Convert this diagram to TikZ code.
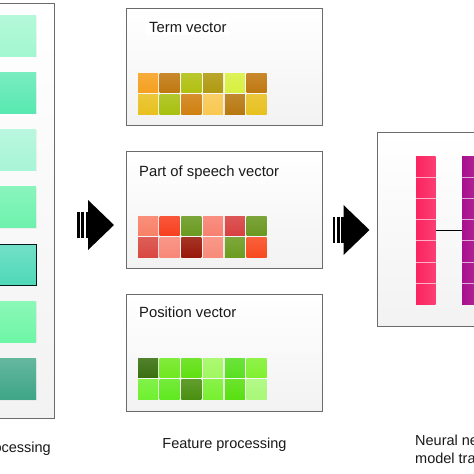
\documentclass[tikz,border=0pt]{standalone}
\usepackage{fontspec}
\setmainfont{Liberation Sans}
\usetikzlibrary{shadows}
% left column colours
\definecolor{la}{HTML}{A2F7CF}\definecolor{lb}{HTML}{58E8B0}\definecolor{lc}{HTML}{A8F5D6}
\definecolor{ld}{HTML}{6CF2AC}\definecolor{le}{HTML}{4FD8B8}\definecolor{lf}{HTML}{6EF6A6}
\definecolor{lg}{HTML}{3DA585}
% term vector
\definecolor{t1}{HTML}{F5A020}\definecolor{t2}{HTML}{C07810}\definecolor{t3}{HTML}{B0C010}
\definecolor{t4}{HTML}{B09A10}\definecolor{t5}{HTML}{D8F040}\definecolor{t6}{HTML}{C07810}
\definecolor{t7}{HTML}{E8C020}\definecolor{t8}{HTML}{A8C010}\definecolor{t9}{HTML}{D08010}
\definecolor{t10}{HTML}{F8C850}\definecolor{t11}{HTML}{B87810}\definecolor{t12}{HTML}{E8C020}
% part of speech
\definecolor{s1}{HTML}{F88068}\definecolor{s2}{HTML}{F84020}\definecolor{s3}{HTML}{6A9A20}
\definecolor{s4}{HTML}{F88070}\definecolor{s5}{HTML}{D84040}\definecolor{s6}{HTML}{6A9820}
\definecolor{s7}{HTML}{D84840}\definecolor{s8}{HTML}{F88878}\definecolor{s9}{HTML}{9A1808}
\definecolor{s10}{HTML}{F88A78}\definecolor{s11}{HTML}{6C9C20}\definecolor{s12}{HTML}{F84A20}
% position
\definecolor{p1}{HTML}{3A7010}\definecolor{p2}{HTML}{70E820}\definecolor{p3}{HTML}{60E010}
\definecolor{p4}{HTML}{A0F860}\definecolor{p5}{HTML}{58E020}\definecolor{p6}{HTML}{80F030}
\definecolor{p7}{HTML}{70F030}\definecolor{p8}{HTML}{60E820}\definecolor{p9}{HTML}{4A9010}
\definecolor{p10}{HTML}{78F030}\definecolor{p11}{HTML}{58E010}\definecolor{p12}{HTML}{A8F878}
\definecolor{pinkc}{HTML}{FA2460}
\definecolor{purpc}{HTML}{A8108C}
\tikzset{
  panel/.style={draw=black!58, line width=0.9pt, top color=white, bottom color=black!5,
    anchor=north west, inner sep=0pt, outer sep=0pt,
    drop shadow={shadow xshift=1pt, shadow yshift=-1.2pt, opacity=0.18}},
  lsq/.style={anchor=north west, inner sep=0pt, outer sep=0pt, minimum width=46pt,
    minimum height=41pt, top color=#1!80!white, bottom color=#1},
  cell/.style={anchor=north west, inner sep=0pt, outer sep=0pt, minimum width=20pt,
    minimum height=19.5pt, top color=#1!88!white, bottom color=#1},
  ncell/.style={anchor=north west, inner sep=0pt, outer sep=0pt, minimum width=19.5pt,
    minimum height=21.2pt, left color=#1, right color=#1!88!white},
  sep/.style={draw=#1!35!white, line width=1pt},
  title/.style={anchor=west, inner sep=3pt, font=\fontsize{14.8}{17}\selectfont, text=black!90},
  caption/.style={font=\fontsize{14.5}{17}\selectfont, text=black!90, inner sep=0pt},
  blockarrow/.style={fill=black}
}
\begin{document}
\begin{tikzpicture}[x=1pt,y=-1pt]
\clip (0,0) rectangle (474,474);
\fill[white] (0,0) rectangle (474,474);

% left panel
\node[panel, minimum width=75pt, minimum height=415pt] (left) at (-21,3) {};
\foreach \c [count=\i from 0] in {la,lb,lc,ld,le,lf,lg}{
  \node[lsq=\c, drop shadow={shadow xshift=0.8pt, shadow yshift=-0.8pt, opacity=0.08}] (L\i) at (-10,{15+57.3*\i}) {};
}
\draw[black!80!teal, line width=0.9pt] (L4.north west) rectangle (L4.south east);
\node[caption, anchor=base east] (lcap) at (51,452) {Data preprocessing};

% arrow 1
\fill[blockarrow] (77,212) rectangle (79.6,238);
\fill[blockarrow] (81.2,212) rectangle (84,238);
\fill[blockarrow] (85.6,212) rectangle (89,238);
\fill[blockarrow] (88,200) -- (114,225) -- (88,250) -- cycle;

% middle panels
\node[panel, minimum width=196pt, minimum height=117pt] (term) at (126,8) {};
\node[panel, minimum width=196pt, minimum height=117pt] (pos) at (126,151) {};
\node[panel, minimum width=196pt, minimum height=117pt] (posn) at (126,294) {};

\node[title, fill=white] (termt) at (146,27) {Term vector};
\node[title] (post) at (136,173) {Part of speech vector};
\node[title, fill=white] (posnt) at (136,312) {Position vector};

\foreach \k in {1,...,6}{
  \pgfmathsetmacro{\xx}{138+21.7*(\k-1)}
  \pgfmathtruncatemacro{\kk}{\k+6}
  \node[cell=t\k] (ta\k) at (\xx,73) {};
  \node[cell=t\kk] (tb\k) at (\xx,94.5) {};
  \node[cell=s\k] (sa\k) at (\xx,216) {};
  \node[cell=s\kk] (sb\k) at (\xx,237.5) {};
  \node[cell=p\k] (pa\k) at (\xx,358) {};
  \node[cell=p\kk] (pb\k) at (\xx,379.5) {};
}
\node[caption, anchor=base] (fcap) at (224.5,448) {Feature processing};

% arrow 2
\begin{scope}[shift={(255.5,5)}]
\fill[blockarrow] (77,212) rectangle (79.6,238);
\fill[blockarrow] (81.2,212) rectangle (84,238);
\fill[blockarrow] (85.6,212) rectangle (89,238);
\fill[blockarrow] (88,200) -- (114,225) -- (88,250) -- cycle;
\end{scope}

% right panel
\node[panel, minimum width=130pt, minimum height=194pt] (nn) at (377,132) {};
\foreach \i in {0,...,6}{
  \node[ncell=pinkc] (pk\i) at (416,{156+21.2*\i}) {};
  \node[ncell=purpc] (pu\i) at (462,{156+21.2*\i}) {};
}
\foreach \i in {1,...,6}{
  \draw[sep=pinkc] (pk\i.north west) -- (pk\i.north east);
  \draw[sep=purpc] (pu\i.north west) -- (pu\i.north east);
}
\draw[line width=1.3pt] (pk3.east) -- (pu3.west);
\node[caption, anchor=base west] (nn1) at (415,445) {Neural network};
\node[caption, anchor=base west] (nn2) at (415,463) {model training};
\end{tikzpicture}
\end{document}
